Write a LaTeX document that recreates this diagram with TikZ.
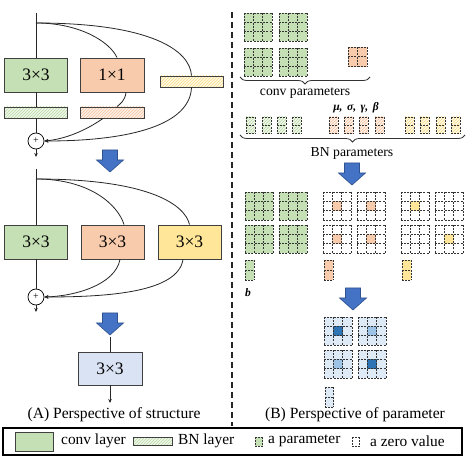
\documentclass[tikz,border=0pt]{standalone}
\usepackage{fontspec}
\setmainfont{Liberation Serif}
\usetikzlibrary{patterns,decorations.pathreplacing,arrows.meta,calc}
\definecolor{cgreen}{HTML}{C5E0B4}
\definecolor{corange}{HTML}{F8CBAD}
\definecolor{cyellow}{HTML}{FFE699}
\definecolor{cblue}{HTML}{DAE3F3}
\definecolor{hgreen}{HTML}{B8DBA2}
\definecolor{horange}{HTML}{F6C2A0}
\definecolor{hyellow}{HTML}{F8DE88}
\definecolor{bgreen}{HTML}{F0F7EB}
\definecolor{borange}{HTML}{FDF0E7}
\definecolor{byellow}{HTML}{FFF9E4}
\definecolor{arrowblue}{HTML}{4472C4}
\definecolor{arrowedge}{HTML}{2F528F}
\definecolor{pblue}{HTML}{DEEBF7}
\definecolor{pbluel}{HTML}{9DC3E6}
\definecolor{pblued}{HTML}{2E75B6}
\tikzset{
  convbox/.style={draw=black!75, line width=0.9pt, minimum width=63pt, minimum height=34pt, inner sep=0pt, font=\fontsize{17.5}{20}\selectfont},
  bnbox/.style={draw=black!75, line width=0.9pt, minimum width=63pt, minimum height=11pt, inner sep=0pt},
  hatchg/.style={preaction={fill=bgreen}, pattern=north east lines, pattern color=hgreen},
  hatcho/.style={preaction={fill=borange}, pattern=north east lines, pattern color=horange},
  hatchy/.style={preaction={fill=byellow}, pattern=north east lines, pattern color=hyellow},
  plusnode/.style={circle, draw=black, line width=0.7pt, minimum size=16pt, inner sep=0pt, font=\fontsize{10}{10}\selectfont},
  link/.style={line width=0.8pt, black!85},
  tolink/.style={link, -{Stealth[length=4pt,width=3.5pt]}},
  gline/.style={draw=black!80, line width=0.7pt, dash pattern=on 2pt off 1.2pt},
  barrow/.style={fill=arrowblue, draw=arrowedge, line width=0.6pt, line join=miter},
  captext/.style={font=\fontsize{15.6}{17}\selectfont, inner sep=0pt},
  lab/.style={font=\fontsize{13.7}{15}\selectfont, inner sep=0pt},
  leg/.style={font=\fontsize{15.4}{17}\selectfont, inner sep=0pt, anchor=west},
  brc/.style={decorate, decoration={brace, mirror, amplitude=7pt}, line width=0.8pt, black!80},
}
% grid: x y cols rows cellw cellh filloptions
\newcommand{\pgrid}[7]{%
  \path[#7] (#1,#2) rectangle ++({#3*#5},{#4*#6});
  \foreach \gi in {0,...,#3}{\draw[gline] ({#1+\gi*#5},#2) -- ++(0,{#4*#6});}
  \foreach \gj in {0,...,#4}{\draw[gline] (#1,{#2+\gj*#6}) -- ++({#3*#5},0);}
}
% 3x3 grid: x y background centre
\newcommand{\cgrid}[4]{%
  \fill[#3] (#1,#2) rectangle ++(28.2,28.2);
  \fill[#4] ({#1+9.4},{#2+9.4}) rectangle ++(9.4,9.4);
  \foreach \gi in {0,...,3}{\draw[gline] ({#1+\gi*9.4},#2) -- ++(0,28.2);
    \draw[gline] (#1,{#2+\gi*9.4}) -- ++(28.2,0);}
}
\newcommand{\barr}[2]{\draw[barrow] ({#1-7.5},#2) -- ++(15,0) -- ++(0,10) -- ++(6,0) -- ({#1},{#2+22}) -- ({#1-13.5},{#2+10}) -- ++(6,0) -- cycle;}
\begin{document}
\begin{tikzpicture}[x=1pt,y=-1pt]
\useasboundingbox (0,0) rectangle (474,462);
\fill[white] (0,0) rectangle (474,462);
% ---------- block 1
\coordinate (in1) at (36,13);
\coordinate (s1) at (36,23);
\node[convbox, fill=cgreen] (c1) at (36,75) {3×3};
\node[convbox, fill=corange, minimum width=64pt] (o1) at (112,75) {1×1};
\node[bnbox, hatchy] (y1) at (191.5,81.5) {};
\node[bnbox, hatchg] (gb1) at (36,112.5) {};
\node[bnbox, hatcho, minimum width=64pt] (ob1) at (112,112.5) {};
\node[plusnode] (p1) at (36,141) {+};
\coordinate (out1) at (36,157);
\draw[link] (in1) -- (c1.north);
\draw[link] (c1.south) -- (gb1.north);
\draw[link] (gb1.south) -- (p1.north);
\draw[tolink] (p1.south) -- (out1);
\draw[link] (s1) .. controls (80,23) and (110,42) .. ([xshift=5pt]o1.north);
\draw[link] (s1) .. controls (150,23) and (190,50) .. (y1.north);
\draw[link] ([xshift=14pt]o1.south) .. controls (125,101) and (120,104) .. ([xshift=5pt]ob1.north);
\draw[tolink] ([xshift=-9pt]ob1.south) .. controls (85,131) and (65,139) .. (p1.east);
\draw[tolink] (y1.south) .. controls (190,125) and (130,141) .. (p1.east);
% ---------- block 2
\barr{110}{150}
\coordinate (in2) at (36,169);
\coordinate (s2) at (36,179);
\node[convbox, fill=cgreen] (c2) at (36,242) {3×3};
\node[convbox, fill=corange] (o2) at (112.5,242) {3×3};
\node[convbox, fill=cyellow] (y2) at (189.5,242) {3×3};
\node[plusnode] (p2) at (36,297) {+};
\coordinate (out2) at (36,312);
\draw[link] (in2) -- (c2.north);
\draw[link] (c2.south) -- (p2.north);
\draw[tolink] (p2.south) -- (out2);
\draw[link] (s2) .. controls (90,179) and (118,205) .. ([xshift=11.5pt]o2.north);
\draw[link] (s2) .. controls (150,179) and (185,205) .. (y2.north);
\draw[tolink] ([xshift=7.5pt]o2.south) .. controls (115,285) and (75,296) .. (p2.east);
\draw[tolink] ([xshift=-6.5pt]y2.south) .. controls (178,292) and (110,297) .. (p2.east);
% ---------- block 3
\barr{110}{313}
\coordinate (in3) at (110,337);
\node[convbox, fill=cblue, minimum width=64pt, minimum height=33pt] (f) at (110,368.5) {3×3};
\coordinate (out3) at (110,403);
\draw[link] (in3) -- (f.north);
\draw[tolink] (f.south) -- (out3);
\node[captext] (capA) at (114,415) {(A) Perspective of structure};
% ---------- divider
\draw[line width=1.3pt, black!85, dash pattern=on 6pt off 4pt] (232,12) -- (232,426);
% ---------- right: conv parameters
\cgrid{244}{13}{cgreen}{cgreen}
\cgrid{279}{13}{cgreen}{cgreen}
\cgrid{244}{48}{cgreen}{cgreen}
\cgrid{279}{48}{cgreen}{cgreen}
\pgrid{348}{47}{2}{2}{9.5}{9.8}{fill=corange}
\draw[brc] (240,77) -- (370,77);
\node[lab] (convp) at (305,93) {conv parameters};
% BN parameters
\foreach \bx in {246,262,277,292}{\pgrid{\bx}{117}{1}{2}{9}{8.3}{hatchg}}
\foreach \bx in {329,344,359,375}{\pgrid{\bx}{117}{1}{2}{9}{8.3}{hatcho}}
\foreach \bx in {405,420,436,451}{\pgrid{\bx}{117}{1}{2}{9}{8.3}{hatchy}}
\node[font=\bfseries\itshape\fontsize{11.5}{12}\selectfont, inner sep=0pt] (greek) at (356,108) {μ,\hspace{4.5pt}σ,\hspace{4.5pt}γ,\hspace{4.5pt}β};
\draw[brc] (240,135) -- (465,135);
\node[lab] (bnp) at (352,153) {BN parameters};
\barr{352}{163}
% fused parameters
\cgrid{245}{192}{cgreen}{cgreen}
\cgrid{279}{192}{cgreen}{cgreen}
\cgrid{245}{225}{cgreen}{cgreen}
\cgrid{279}{225}{cgreen}{cgreen}
\cgrid{323}{192}{white}{corange}
\cgrid{357}{192}{white}{corange}
\cgrid{323}{225}{white}{corange}
\cgrid{357}{225}{white}{corange}
\cgrid{401}{192}{white}{cyellow}
\cgrid{435}{192}{white}{white}
\cgrid{401}{225}{white}{white}
\cgrid{435}{225}{white}{cyellow}
\pgrid{245}{260}{1}{2}{9}{10}{fill=cgreen}
\pgrid{324}{260}{1}{2}{9}{10}{fill=corange}
\pgrid{402}{260}{1}{2}{9}{10}{fill=cyellow}
\node[font=\bfseries\itshape\fontsize{11.5}{12}\selectfont, inner sep=0pt] (bias) at (248,293) {b};
\barr{353}{288}
% final
\cgrid{324}{317}{pblue}{pblued}
\cgrid{358}{317}{pblue}{pbluel}
\cgrid{324}{350}{pblue}{pbluel}
\cgrid{358}{350}{pblue}{pblued}
\pgrid{325}{387}{1}{2}{8.5}{10}{fill=pblue}
\node[captext] (capB) at (355,415) {(B) Perspective of parameter};
% ---------- legend
\node[draw=black, line width=1.5pt, minimum width=459pt, minimum height=27pt, inner sep=0pt] (legend) at (232.5,441.5) {};
\node[draw=black!75, line width=0.9pt, fill=cgreen, minimum width=38pt, minimum height=19pt, inner sep=0pt] (lconv) at (34,441.5) {};
\node[leg] (tconv) at (61,441) {conv layer};
\node[draw=black!75, line width=0.9pt, hatchg, minimum width=39pt, minimum height=8pt, inner sep=0pt] (lbn) at (152.5,441) {};
\node[leg] (tbn) at (178,441) {BN layer};
\pgrid{255}{437}{1}{1}{7.5}{9}{fill=cgreen}
\node[leg] (tpar) at (268,441) {a parameter};
\pgrid{352}{437}{1}{1}{7.5}{9}{fill=white}
\node[leg] (tzero) at (370,441) {a zero value};
\end{tikzpicture}
\end{document}
